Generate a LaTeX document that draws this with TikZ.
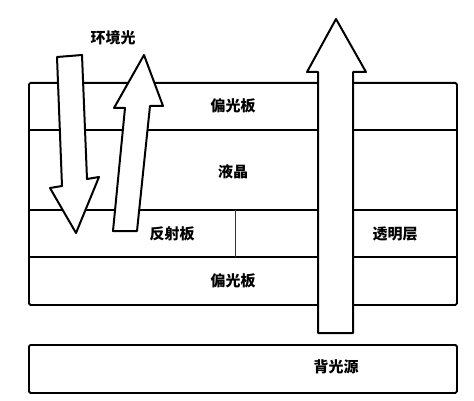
\documentclass[tikz,border=0pt]{standalone}
\usepackage{fontspec}
\newfontfamily\cjk{Noto Sans CJK SC}
\begin{document}
\begin{tikzpicture}[x=1pt,y=-1pt,
  layer/.style={draw=black,line width=1.8pt,rounded corners=1.5pt},
  divider/.style={draw=black!80,line width=1pt},
  lightarrow/.style={draw=black,fill=white,line width=2pt,line join=round},
  lbl/.style={font=\cjk\bfseries\fontsize{15}{15}\selectfont,inner sep=0pt}]
\useasboundingbox (0,0) rectangle (474,401);
% layer stack
\node[layer,minimum width=428pt,minimum height=222pt,inner sep=0pt,anchor=north west] (stack) at (28,82) {};
\coordinate (l1a) at (28,130); \coordinate (l1b) at (456,130);
\coordinate (l2a) at (28,210); \coordinate (l2b) at (456,210);
\coordinate (l3a) at (28,257); \coordinate (l3b) at (456,257);
\coordinate (dvt) at (235,210); \coordinate (dvb) at (235,257);
\draw[line width=1.8pt] (l1a) -- (l1b);
\draw[line width=1.8pt] (l2a) -- (l2b);
\draw[line width=1.8pt] (l3a) -- (l3b);
\draw[divider] (dvt) -- (dvb);
\node[layer,minimum width=428pt,minimum height=48pt,inner sep=0pt,anchor=north west] (back) at (28,344) {};
% arrows
\draw[lightarrow] (318,333) -- (318,72) -- (307,72) -- (336,19) -- (366,72) -- (353,72) -- (353,333) -- cycle;
\draw[lightarrow] (57,57) -- (82,55) -- (87,179) -- (99,177) -- (76,233) -- (50,188) -- (62,186) -- cycle;
\draw[lightarrow] (113,231) -- (125,108) -- (114,108) -- (144,55) -- (163,106) -- (150,106) -- (137,231) -- cycle;
% labels
\node[lbl] (amb) at (113,38) {环境光};
\node[lbl] (pol1) at (233,106) {偏光板};
\node[lbl] (lc) at (233,172) {液晶};
\node[lbl] (refl) at (172,234) {反射板};
\node[lbl] (trans) at (395,234) {透明层};
\node[lbl] (pol2) at (233,281) {偏光板};
\node[lbl] (bl) at (336,367) {背光源};
\end{tikzpicture}
\end{document}
